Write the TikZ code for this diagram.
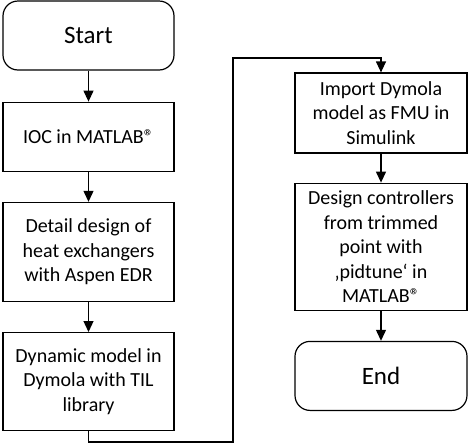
\documentclass[tikz,border=0pt]{standalone}
\usepackage{fontspec}
\setmainfont{Carlito}
\usetikzlibrary{arrows.meta,positioning}

\begin{document}
\begin{tikzpicture}[
  x=1pt, y=1pt,
  font=\fontsize{20}{24.5}\selectfont,
  proc/.style={draw, line width=1.2pt, align=center, minimum width=171pt, inner sep=2pt},
  term/.style={proc, rounded corners=15pt, minimum height=69pt, font=\fontsize{25}{30}\selectfont},
  arrow/.style={-{Triangle[length=11pt,width=10pt]}, line width=1.2pt}
]
\useasboundingbox (0,0) rectangle (474,-445);

% left column
\node[term] (start) at (88.5,-35.5) {Start};
\node[proc, minimum height=69pt, below=31pt of start] (ioc) {IOC in MATLAB®};
\node[proc, minimum height=99pt, below=30pt of ioc] (edr) {Detail design of\\heat exchangers\\with Aspen EDR};
\node[proc, minimum height=98pt, below=30pt of edr] (dymola) {Dynamic model in\\Dymola with TIL\\library};

% right column
\node[proc, minimum width=172pt, minimum height=80pt] (fmu) at (381,-113) {Import Dymola\\model as FMU in\\Simulink};
\node[proc, minimum width=172pt, minimum height=127pt, below=29pt of fmu] (pid) {Design controllers\\from trimmed\\point with\\‚pidtune‘ in\\MATLAB®};
\node[term, minimum width=172pt, below=30pt of pid] (end) {End};

\draw[arrow] (start) -- (ioc);
\draw[arrow] (ioc) -- (edr);
\draw[arrow] (edr) -- (dymola);

\coordinate (low) at (233,-442);
\coordinate (high) at (233,-58);
\draw[arrow] (dymola.south) |- (low) -- (high) -| (fmu.north);

\draw[arrow] (fmu) -- (pid);
\draw[arrow] (pid) -- (end);
\end{tikzpicture}
\end{document}
